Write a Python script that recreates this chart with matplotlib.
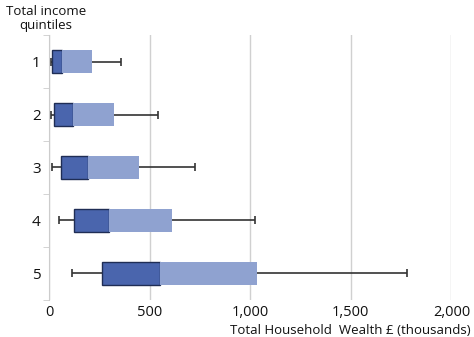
import matplotlib
matplotlib.use('Agg')
from matplotlib import pyplot as plt
import numpy as np

plt.rcParams['font.family'] = ['Open Sans', 'DejaVu Sans']

quintiles = ['1', '2', '3', '4', '5']
low = [10, 10, 15, 50, 115]
q1 = [15, 25, 60, 125, 265]
median = [65, 120, 195, 300, 550]
q3 = [215, 325, 445, 610, 1032]
high = [360, 540, 725, 1022, 1780]

dark = '#4a65ad'
light = '#8fa2d0'

fig = plt.figure(figsize=(4.74, 3.37), dpi=100)
ax = fig.add_axes([0.1034, 0.110, 0.849, 0.786])

y = np.arange(len(quintiles))
low = np.array(low)
q1 = np.array(q1)
median = np.array(median)
q3 = np.array(q3)
high = np.array(high)

# whiskers first, boxes drawn over them
ax.errorbar(median, y, xerr=[median - low, high - median], fmt='none',
            ecolor='#333333', elinewidth=1.2, capsize=3, capthick=1.2, zorder=2)
ax.barh(y, median - q1, left=q1, height=0.42, color=dark,
        edgecolor='#1f2d55', linewidth=1.0, zorder=3)
ax.barh(y, q3 - median, left=median, height=0.42, color=light,
        linewidth=0, zorder=3)

ax.set_xlim(0, 2000)
ax.set_ylim(4.5, -0.5)
ax.set_xticks([0, 500, 1000, 1500, 2000])
ax.set_xticklabels(['0', '500', '1,000', '1,500', '2,000'])
ax.set_yticks(y)
ax.set_yticklabels(quintiles)
ax.set_yticks(np.arange(-0.5, 5, 1), minor=True)
ax.tick_params(axis='y', which='major', length=0, pad=6, labelsize=11,
               labelcolor='#111111')
ax.tick_params(axis='y', which='minor', length=4, color='#cccccc')
ax.tick_params(axis='x', length=0, pad=4, labelsize=10.5, labelcolor='#111111')
ax.grid(axis='x', color='#d0d0d0', linewidth=1.0, zorder=0)
ax.set_axisbelow(True)
for s in ['top', 'right', 'bottom']:
    ax.spines[s].set_visible(False)
ax.spines['left'].set_color('#cccccc')

fig.text(0.097, 0.985, 'Total income\nquintiles', ha='center', va='top',
         fontsize=9.5, linespacing=1.05, color='#111111')
fig.text(0.992, 0.0, 'Total Household  Wealth £ (thousands)', ha='right',
         va='bottom', fontsize=9.5, color='#111111')

plt.savefig('out.png', dpi=100)
